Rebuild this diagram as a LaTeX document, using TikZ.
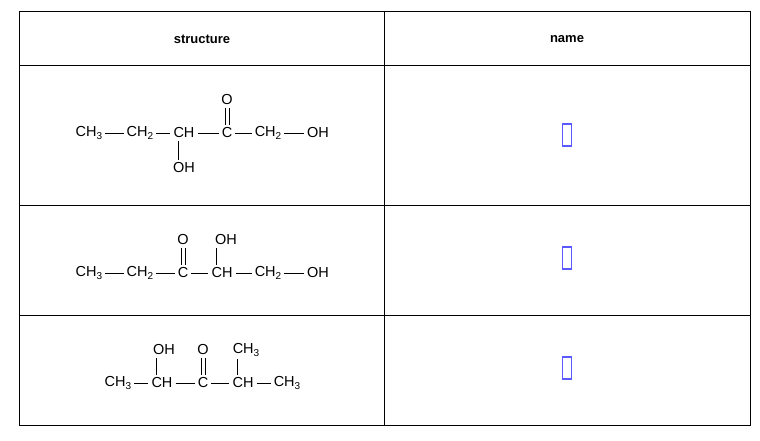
\documentclass[tikz,border=0pt]{standalone}
\usepackage{fontspec}
\setmainfont{Liberation Sans}
\newcommand{\sbs}[1]{\raisebox{-0.35ex}{\fontsize{10}{10}\selectfont #1}}
\begin{document}
\begin{tikzpicture}[x=1pt,y=-1pt,
  g/.style={inner sep=1pt,font=\fontsize{14.5}{14.5}\selectfont},
  bd/.style={line width=0.6pt,shorten >=2pt,shorten <=2pt},
  vb/.style={line width=0.6pt,shorten >=1.5pt,shorten <=1.5pt},
  hd/.style={font=\bfseries\fontsize{13}{13}\selectfont},
  ans/.style={draw=blue!65!white,line width=1.1pt,minimum width=9pt,minimum height=22pt,inner sep=0pt}]
\useasboundingbox (0,0) rectangle (760,441);
\draw[line width=0.6pt] (19,11) rectangle (750,425);
\draw[line width=0.6pt] (384,11) -- (384,425);
\draw[line width=0.6pt] (19,65) -- (750,65) (19,205) -- (750,205) (19,315) -- (750,315);
\node[hd] (h1) at (202,39) {structure};
\node[hd] (h2) at (567,39) {name};
% row 1
\node[g] (a1) at (89,133) {CH\sbs{3}};
\node[g] (a2) at (140,133) {CH\sbs{2}};
\node[g] (a3) at (184,133) {CH};
\node[g] (a4) at (227,133) {C};
\node[g] (a5) at (268,133) {CH\sbs{2}};
\node[g] (a6) at (318,133) {OH};
\node[g] (ao) at (227,100) {O};
\node[g] (aoh) at (184,168) {OH};
\draw[bd] (a1) -- (a2); \draw[bd] (a2) -- (a3); \draw[bd] (a3) -- (a4);
\draw[bd] (a4) -- (a5); \draw[bd] (a5) -- (a6);
\draw[vb] ([xshift=-1.8pt]ao.south) -- ([xshift=-1.8pt]a4.north);
\draw[vb] ([xshift=1.8pt]ao.south) -- ([xshift=1.8pt]a4.north);
\draw[vb] ([xshift=5.5pt]a3.south west) -- ([xshift=5.5pt]a3.south west |- aoh.north);
% row 2
\node[g] (b1) at (89,273) {CH\sbs{3}};
\node[g] (b2) at (140,273) {CH\sbs{2}};
\node[g] (b3) at (183,273) {C};
\node[g] (b4) at (222,273) {CH};
\node[g] (b5) at (268,273) {CH\sbs{2}};
\node[g] (b6) at (318,273) {OH};
\node[g] (bo) at (183,240) {O};
\node[g] (boh) at (226,240) {OH};
\draw[bd] (b1) -- (b2); \draw[bd] (b2) -- (b3); \draw[bd] (b3) -- (b4);
\draw[bd] (b4) -- (b5); \draw[bd] (b5) -- (b6);
\draw[vb] ([xshift=-1.8pt]bo.south) -- ([xshift=-1.8pt]b3.north);
\draw[vb] ([xshift=1.8pt]bo.south) -- ([xshift=1.8pt]b3.north);
\draw[vb] ([xshift=5.5pt]b4.north west) -- ([xshift=5.5pt]b4.north west |- boh.south);
% row 3
\node[g] (c1) at (118,383) {CH\sbs{3}};
\node[g] (c2) at (162,383) {CH};
\node[g] (c3) at (203,383) {C};
\node[g] (c4) at (243,383) {CH};
\node[g] (c5) at (287,383) {CH\sbs{3}};
\node[g] (coh) at (164,350) {OH};
\node[g] (co) at (203,350) {O};
\node[g] (cme) at (246,350) {CH\sbs{3}};
\draw[bd] (c1) -- (c2); \draw[bd] (c2) -- (c3); \draw[bd] (c3) -- (c4); \draw[bd] (c4) -- (c5);
\draw[vb] ([xshift=-1.8pt]co.south) -- ([xshift=-1.8pt]c3.north);
\draw[vb] ([xshift=1.8pt]co.south) -- ([xshift=1.8pt]c3.north);
\draw[vb] ([xshift=5.5pt]c2.north west) -- ([xshift=5.5pt]c2.north west |- coh.south);
\draw[vb] ([xshift=5.5pt]c4.north west) -- ([xshift=5.5pt]c4.north west |- cme.south);
% answer boxes
\node[ans] (n1) at (567,135) {};
\node[ans] (n2) at (567,258) {};
\node[ans] (n3) at (567,368) {};
\end{tikzpicture}
\end{document}
